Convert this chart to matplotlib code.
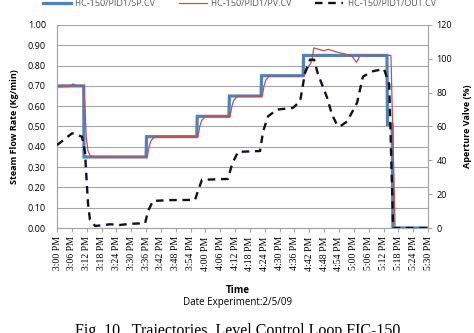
import matplotlib
matplotlib.use('Agg')
import matplotlib.pyplot as plt
from matplotlib.lines import Line2D

# minutes after 3:00 PM
sp_t = [0, 10.8, 10.9, 36.0, 36.2, 56.5, 56.7, 69.5, 69.7, 82.5, 82.7, 99.5, 99.7, 133.4, 133.6, 135.5, 135.8, 150]
sp_v = [0.70, 0.70, 0.35, 0.35, 0.45, 0.45, 0.55, 0.55, 0.65, 0.65, 0.75, 0.75, 0.85, 0.85, 0.51, 0.51, 0.0, 0.0]

pv_t = [0, 5.0, 6.5, 7.5, 10.8, 11.3, 11.8, 12.5, 13.5, 15.0,
        36.5, 37.2, 38.0, 39.5, 57.0, 57.7, 58.5, 60.0,
        70.0, 70.7, 71.5, 73.0, 83.0, 83.7, 84.5, 86.0,
        100.0, 101.5, 103.0, 103.8, 105.8, 107.8, 109.8, 112.7, 116.7, 119.1, 121.1, 122.7,
        135.0, 136.7, 150]
pv_v = [0.695, 0.697, 0.71, 0.70, 0.70, 0.60, 0.45, 0.38, 0.355, 0.35,
        0.35, 0.40, 0.43, 0.45, 0.45, 0.50, 0.53, 0.55,
        0.55, 0.60, 0.63, 0.65, 0.65, 0.70, 0.73, 0.75,
        0.75, 0.79, 0.82, 0.887, 0.88, 0.873, 0.88, 0.868, 0.856, 0.848, 0.816, 0.852,
        0.85, 0.0, 0.0]

out_t = [0, 6.1, 10.1, 11.3, 12.5, 13.3, 15.4, 17.4, 21.4, 25.5, 29.5, 35.6,
         36.8, 38.8, 45.7, 55.8, 57.0, 58.6, 69.1, 70.8, 73.2, 82.1, 83.3, 85.3,
         89.0, 95.4, 98.3, 100.3, 102.3, 103.9, 105.5, 109.2, 111.2, 113.2, 114.4,
         117.3, 121.3, 123.7, 127.8, 132.2, 134.3, 135.9, 150]
out_v = [49, 56, 54, 45, 15, 5, 1.2, 1.5, 2.2, 1.8, 2.5, 2.8,
         10, 16, 16.5, 16.6, 22, 28.5, 29, 38, 45, 45.5, 57, 66,
         70, 71, 75, 92, 99.5, 99.5, 91, 77, 67, 61, 60,
         63, 74, 89.5, 92.7, 94, 85, 0, 0]

tick_labels = ['3:00 PM', '3:06 PM', '3:12 PM', '3:18 PM', '3:24 PM', '3:30 PM',
               '3:36 PM', '3:42 PM', '3:48 PM', '3:54 PM', '4:00 PM', '4:06 PM',
               '4:12 PM', '4:18 PM', '4:24 PM', '4:30 PM', '4:36 PM', '4:42 PM',
               '4:48 PM', '4:54 PM', '5:00 PM', '5:06 PM', '5:12 PM', '5:18 PM',
               '5:24 PM', '5:30 PM']

sans = ['Open Sans', 'DejaVu Sans']
serif = ['Liberation Serif', 'DejaVu Serif']
grid_c = '#a6a6a6'

fig = plt.figure(figsize=(4.74, 3.33), dpi=100)
ax = fig.add_axes([0.1203, 0.3153, 0.7827, 0.6097])
ax2 = ax.twinx()

ax.plot(sp_t, sp_v, color='#4f81bd', lw=2.3, solid_joinstyle='miter', zorder=3)
ax.plot(pv_t, pv_v, color='#c0504d', lw=0.9, zorder=4)
ax2.plot(out_t, out_v, color='#111122', lw=1.7, dashes=(3.2, 2.4), zorder=5)

ax.set_xlim(0, 150)
ax.set_ylim(0, 1.0)
ax2.set_ylim(0, 120)
ax.set_yticks([i / 10 for i in range(11)])
ax.set_yticklabels(['%.2f' % (i / 10) for i in range(11)], family=sans, fontsize=6.5)
ax2.set_yticks(range(0, 121, 20))
ax2.set_yticklabels([str(v) for v in range(0, 121, 20)], family=sans, fontsize=6.5)
ax.set_xticks(range(0, 151, 6))
ax.set_xticklabels(tick_labels, rotation=90, family=serif, fontsize=7)

ax.grid(axis='y', color=grid_c, lw=0.8)
ax.set_axisbelow(True)
for a in (ax, ax2):
    for s in a.spines.values():
        s.set_color(grid_c)
        s.set_linewidth(0.8)
    a.spines['top'].set_visible(False)
ax.tick_params(axis='y', length=0, pad=8)
ax.tick_params(axis='x', length=3, color=grid_c, pad=3)
ax2.tick_params(axis='y', length=3, color=grid_c, pad=3)

ax.set_ylabel('Steam Flow Rate (Kg/min)', family=sans, fontsize=6.5, fontweight='bold', labelpad=6)
ax2.set_ylabel('Aperture Valve (%)', family=sans, fontsize=6.5, fontweight='bold', labelpad=8)

fig.text(0.502, 0.128, 'Time', family=sans, fontsize=7, fontweight='bold', ha='center', va='center')
fig.text(0.502, 0.092, 'Date Experiment:2/5/09', family=sans, fontsize=7, ha='center', va='center')
# caption sits at the very bottom edge of the image
fig.text(0.502, 0.030, 'Fig. 10.  Trajectories  Level Control Loop FIC-150', family=serif,
         fontsize=11.5, ha='center', va='top')

handles = [Line2D([], [], color='#4f81bd', lw=2.3),
           Line2D([], [], color='#c0504d', lw=0.9),
           Line2D([], [], color='#111122', lw=1.7, dashes=(3.2, 2.4))]
labels = ['FIC-150/PID1/SP.CV', 'FIC-150/PID1/PV.CV', 'FIC-150/PID1/OUT.CV']
leg = fig.legend(handles, labels, loc='center', bbox_to_anchor=(0.505, 0.99), ncol=3, frameon=False,
                 prop={'family': sans, 'size': 6.5}, handlelength=3.1, handletextpad=0.4,
                 columnspacing=2.6)
for t in leg.get_texts():
    t.set_color('#595959')

fig.savefig('out.png', dpi=100)
